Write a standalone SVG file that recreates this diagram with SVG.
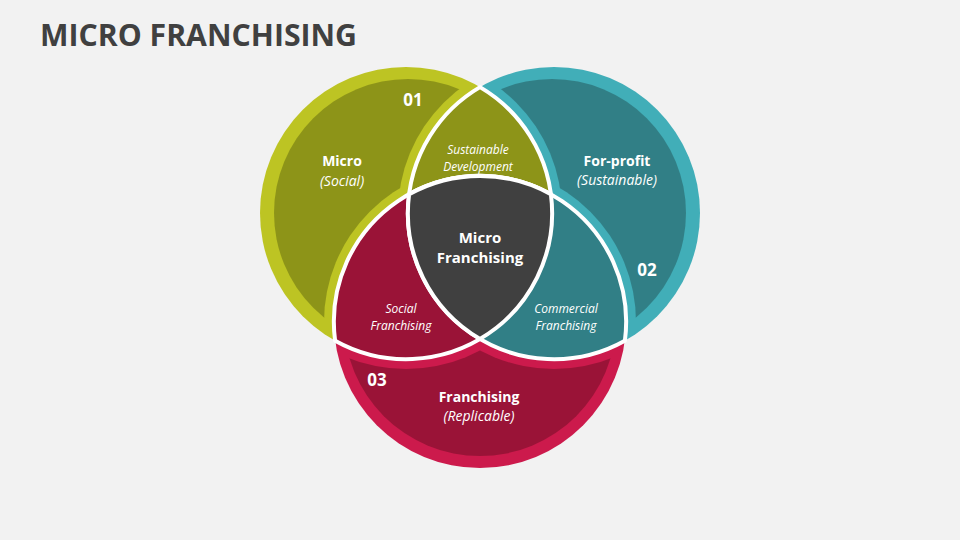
<svg xmlns="http://www.w3.org/2000/svg" width="960" height="540" viewBox="0 0 960 540">
<style>
.t{font-family:"Open Sans","Liberation Sans",sans-serif;fill:#fff;text-anchor:middle}
.b{font-weight:bold;font-size:14px}
.i{font-style:italic;font-size:12px}
.n{font-weight:bold;font-size:17px}
.lens{stroke:#fff;stroke-width:4;stroke-linejoin:round}
</style>
<defs>
<mask id="mA"><rect width="960" height="540" fill="#000"/><circle cx="408" cy="213" r="134" fill="#fff"/><circle cx="554" cy="213" r="156" fill="#000"/><circle cx="480" cy="322" r="156" fill="#000"/></mask>
<mask id="mB"><rect width="960" height="540" fill="#000"/><circle cx="552" cy="213" r="134" fill="#fff"/><circle cx="406" cy="213" r="156" fill="#000"/><circle cx="480" cy="322" r="156" fill="#000"/></mask>
<mask id="mC"><rect width="960" height="540" fill="#000"/><circle cx="480" cy="320" r="136" fill="#fff"/><circle cx="406" cy="213" r="156" fill="#000"/><circle cx="554" cy="213" r="156" fill="#000"/></mask>
</defs>
<rect width="960" height="540" fill="#F2F2F2"/>
<text x="40" y="46" font-family="Open Sans, Liberation Sans, sans-serif" font-weight="bold" font-size="30" fill="#404040" textLength="317" lengthAdjust="spacingAndGlyphs">MICRO FRANCHISING</text>
<g id="circle-01">
<circle cx="406" cy="213" r="146" fill="#BDC423"/>
<rect width="960" height="540" fill="#8D9418" mask="url(#mA)"/>
</g>
<g id="circle-02">
<circle cx="554" cy="213" r="146" fill="#41AEB8"/>
<rect width="960" height="540" fill="#317F86" mask="url(#mB)"/>
</g>
<g id="circle-03">
<circle cx="480" cy="322" r="146" fill="#CC1A4C"/>
<rect width="960" height="540" fill="#9A1337" mask="url(#mC)"/>
</g>
<g id="lens-sustainable">
<path class="lens" fill="#8D9418" d="M480,87.1 A146,146 0 0 1 480,338.9 A146,146 0 0 1 480,87.1 Z"/>
</g>
<g id="lens-social">
<path class="lens" fill="#9A1337" d="M550.9,194.3 A146,146 0 0 1 335.1,340.7 A146,146 0 0 1 550.9,194.3 Z"/>
</g>
<g id="lens-commercial">
<path class="lens" fill="#317F86" d="M409.1,194.3 A146,146 0 0 1 624.9,340.7 A146,146 0 0 1 409.1,194.3 Z"/>
</g>
<g id="center">
<path class="lens" fill="#404040" d="M409.1,194.3 A146,146 0 0 1 550.9,194.3 A146,146 0 0 1 480,338.9 A146,146 0 0 1 409.1,194.3 Z"/>
</g>
<g id="labels">
<text class="t n" x="413" y="106">01</text>
<text class="t b" x="342" y="166">Micro</text>
<text class="t i" x="342" y="186" font-size="14" style="font-size:14px">(Social)</text>
<text class="t i" x="478" y="154">Sustainable</text>
<text class="t i" x="478" y="171">Development</text>
<text class="t b" x="617" y="166">For-profit</text>
<text class="t i" x="617" y="185" style="font-size:14px">(Sustainable)</text>
<text class="t b" x="480" y="243" style="font-size:15px">Micro</text>
<text class="t b" x="480" y="263" style="font-size:15px">Franchising</text>
<text class="t n" x="647" y="276">02</text>
<text class="t i" x="401" y="313">Social</text>
<text class="t i" x="401" y="330">Franchising</text>
<text class="t i" x="566" y="313">Commercial</text>
<text class="t i" x="566" y="330">Franchising</text>
<text class="t n" x="377" y="386">03</text>
<text class="t b" x="479" y="402">Franchising</text>
<text class="t i" x="479" y="421" style="font-size:14px">(Replicable)</text>
</g>
</svg>
